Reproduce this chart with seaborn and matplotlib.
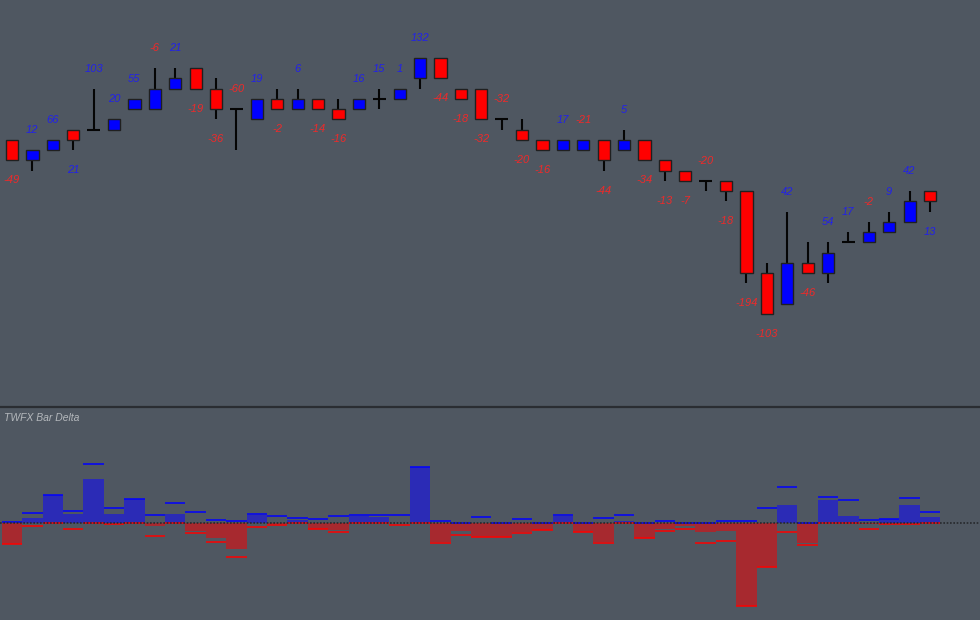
import numpy as np
import pandas as pd
import seaborn as sns
import matplotlib.pyplot as plt
from matplotlib.lines import Line2D

# Precios (en ticks) de cada vela
opens = [242, 240, 241, 243, 243, 243, 245, 245, 247, 249, 247, 245, 244, 246, 245, 246,
         245, 245, 246, 246, 248, 250, 247, 247, 244, 243, 242, 241, 241, 242, 241, 242,
         240, 239, 238, 238, 237, 229, 226, 230, 229, 232, 232, 233, 234, 237]
highs = [242, 241, 242, 243, 247, 244, 246, 249, 249, 249, 248, 245, 246, 247, 247, 246,
         246, 246, 247, 247, 250, 250, 247, 247, 244, 244, 242, 242, 242, 242, 243, 242,
         240, 239, 238, 238, 237, 230, 235, 232, 232, 233, 234, 235, 237, 237]
lows = [240, 239, 241, 241, 243, 243, 245, 245, 247, 247, 244, 241, 244, 245, 245, 245,
        244, 245, 245, 246, 247, 248, 246, 244, 243, 242, 241, 241, 241, 239, 241, 240,
        238, 238, 237, 236, 228, 225, 226, 229, 228, 232, 232, 233, 234, 235]
closes = [240, 241, 242, 242, 243, 244, 246, 247, 248, 247, 245, 245, 246, 245, 246, 245,
          244, 246, 246, 247, 250, 248, 246, 244, 244, 242, 241, 242, 242, 240, 242, 240,
          239, 238, 238, 237, 229, 225, 230, 229, 231, 232, 233, 234, 236, 236]

# Delta por barra, y extremos de delta durante la barra
delta = [-49, 12, 66, 21, 103, 20, 55, -6, 21, -19, -36, -60, 19, -2, 6, -14,
         -16, 16, 15, 1, 132, -44, -18, -32, -32, -20, -16, 17, -21, -44, 5, -34,
         -13, -7, -20, -18, -194, -103, 42, -46, 54, 17, -2, 9, 42, 13]
delta_max = [2, 23, 66, 28, 139, 35, 56, 18, 46, 25, 7, 4, 20, 16, 12, 9,
             16, 18, 18, 18, 132, 5, 0, 13, 0, 9, 0, 18, 0, 11, 18, 1,
             4, 0, 0, 5, 4, 35, 84, 0, 61, 53, 7, 9, 58, 25]
delta_min = [-49, -6, -1, -13, 0, -2, 0, -30, 0, -23, -44, -80, -10, -4, -1, -14,
             -20, 0, 0, -4, 0, -46, -28, -32, -32, -24, -16, -1, -22, -46, 0, -35,
             -19, -15, -47, -43, -194, -103, -22, -52, 0, 0, -13, -2, -3, 0]

BG = "#4f5761"
AZUL = "#0000ff"
ROJO = "#ff0000"

o = np.array(opens, float)
h = np.array(highs, float)
l = np.array(lows, float)
c = np.array(closes, float)
d = np.array(delta)
idx = np.arange(len(o))

plt.rcParams["font.family"] = ["Liberation Sans", "DejaVu Sans"]
fig = plt.figure(figsize=(9.8, 6.2), dpi=100, facecolor=BG)
ax = fig.add_axes([0, 214 / 620, 1, 406 / 620])
ax2 = fig.add_axes([0, 0, 1, 212 / 620])
for a in (ax, ax2):
    a.set_facecolor(BG)
    a.set_axis_off()
    a.set_xlim(-0.59, 47.45)

# Velas
ax.vlines(idx, l, h, color="#050505", lw=1.5, zorder=1)
doji = o == c
cuerpo = ~doji
colores = np.where(c > o, AZUL, ROJO)
ax.bar(idx[cuerpo], (c - o)[cuerpo], bottom=o[cuerpo], width=0.6,
       color=colores[cuerpo], edgecolor="#202020", linewidth=1, zorder=2)
ax.hlines(o[doji], idx[doji] - 0.32, idx[doji] + 0.32, color="#050505", lw=1.5, zorder=2)

# Etiquetas de delta
for i in idx:
    arriba = c[i] >= o[i]
    y = h[i] + 1.95 if arriba else l[i] - 1.95
    ax.text(i, y, str(d[i]), ha="center", va="center", fontsize=8, style="italic",
            color="#2222e8" if d[i] > 0 else "#ee2a2a")
ax.set_ylim(216.02, 255.66)

# Panel inferior: histograma de delta
df = pd.DataFrame({"barra": idx, "delta": d, "signo": np.where(d > 0, "pos", "neg")})
sns.barplot(data=df, x="barra", y="delta", hue="signo",
            palette={"pos": "#2b2bb6", "neg": "#a7292f"}, native_scale=True,
            width=1.0, dodge=False, errorbar=None, saturation=1, legend=False,
            linewidth=0, ax=ax2)
ax2.hlines(delta_max, idx - 0.5, idx + 0.5, color=AZUL, lw=1.1, zorder=3)
ax2.hlines(delta_min, idx - 0.5, idx + 0.5, color=ROJO, lw=1.1, zorder=3)
ax2.axhline(0, color="#26292d", lw=1.2, ls=(0, (1, 1)), zorder=4)
ax2.set_xlim(-0.59, 47.45)
ax2.set_ylim(-226.6, 268.7)
ax2.set_axis_off()
ax2.text(0.004, 0.955, "TWFX Bar Delta", transform=ax2.transAxes, fontsize=7.5,
         style="italic", color="#b4b8bc", ha="left", va="center")

fig.add_artist(Line2D([0, 1], [213 / 620, 213 / 620], transform=fig.transFigure,
                      color="#2a2d32", lw=1.6))

fig.savefig("out.png", dpi=100, facecolor=BG)
